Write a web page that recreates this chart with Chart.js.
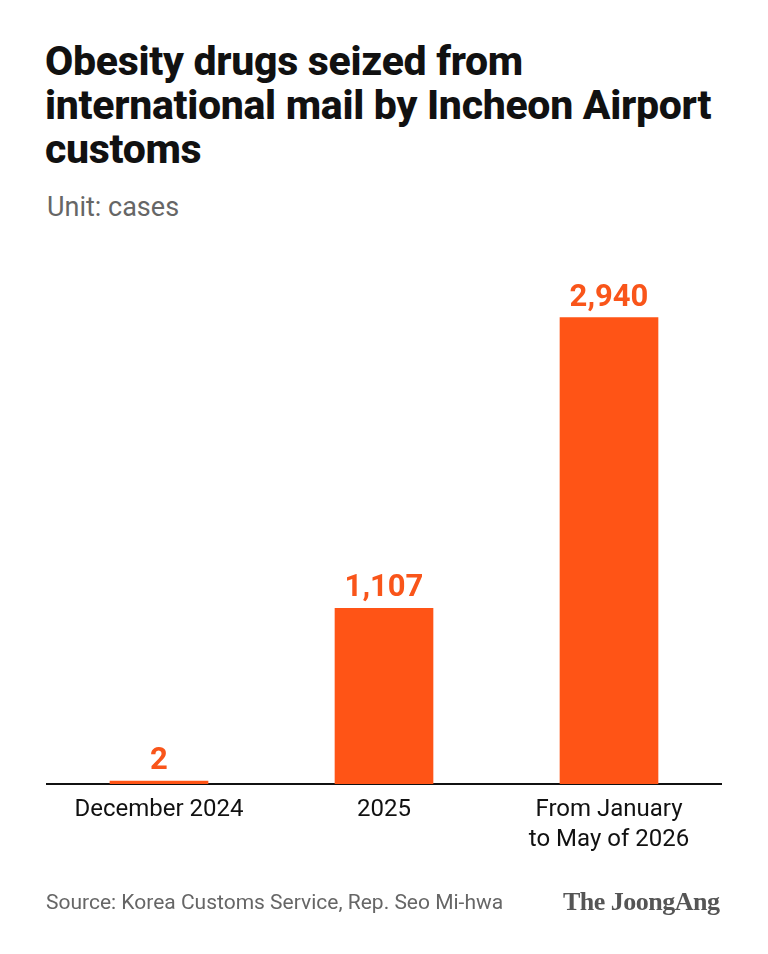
<!DOCTYPE html>
<html>
<head>
<meta charset="utf-8">
<script src="https://cdn.jsdelivr.net/npm/chart.js@4.4.1/dist/chart.umd.min.js"></script>
<style>
  html, body { margin: 0; padding: 0; background: #fff; }
  body { width: 768px; height: 954px; position: relative; overflow: hidden; font-family: Roboto, "Noto Sans", sans-serif; }
  .title { position: absolute; left: 45px; top: 39px; width: 720px; font-size: 41px; line-height: 44px; font-weight: 800; color: #111; letter-spacing: -0.3px; }
  .unit { position: absolute; left: 47px; top: 191px; font-size: 27px; line-height: 32px; color: #666; }
  .chart-box { position: absolute; left: 0; top: 250px; width: 768px; height: 650px; }
  .source { position: absolute; left: 46px; top: 888px; font-size: 21px; line-height: 28px; color: #666; z-index: 2; }
  .brand { position: absolute; left: 563px; top: 886px; font-family: "Liberation Serif", "DejaVu Serif", serif; font-size: 26px; line-height: 32px; font-weight: 700; color: #555; letter-spacing: -0.5px; z-index: 2; }
</style>
</head>
<body>
  <div class="title">Obesity drugs seized from<br>international mail by Incheon Airport<br>customs</div>
  <div class="unit">Unit: cases</div>
  <div class="chart-box"><canvas id="chart"></canvas></div>
  <div class="source">Source: Korea Customs Service, Rep. Seo Mi-hwa</div>
  <div class="brand">The JoongAng</div>

<script>
  // data
  const categories = [['December 2024'], ['2025'], ['From January', 'to May of 2026']];
  const seizedCases = [2, 1107, 2940];
  const valueLabels = ['2', '1,107', '2,940'];

  const orange = '#FF5416';

  // draws the numbers above each bar
  const valueLabelPlugin = {
    id: 'valueLabels',
    afterDatasetsDraw(chart) {
      const ctx = chart.ctx;
      const meta = chart.getDatasetMeta(0);
      ctx.save();
      ctx.font = '700 31px Roboto, sans-serif';
      ctx.fillStyle = '#F9551A';
      ctx.textAlign = 'center';
      ctx.textBaseline = 'alphabetic';
      meta.data.forEach((bar, i) => {
        ctx.fillText(valueLabels[i], bar.x, bar.y - 12);
      });
      ctx.restore();
    }
  };

  new Chart(document.getElementById('chart'), {
    type: 'bar',
    data: {
      labels: categories,
      datasets: [
        {
          data: seizedCases,
          backgroundColor: orange,
          barThickness: 98,
          minBarLength: 3,
          borderWidth: 0,
        },
      ],
    },
    options: {
      responsive: true,
      maintainAspectRatio: false,
      animation: false,
      layout: { padding: { left: 46.5, right: 46.5, top: 20, bottom: 42 } },
      plugins: {
        legend: { display: false },
        tooltip: { enabled: false },
      },
      scales: {
        x: {
          grid: { display: false },
          border: { display: true, color: '#111', width: 2 },
          ticks: {
            color: '#111',
            padding: 3,
            font: { family: 'Roboto', size: 24, lineHeight: 1.25 },
          },
        },
        y: {
          display: false,
          min: 0,
          max: 3240,
        },
      },
    },
    plugins: [valueLabelPlugin],
  });
</script>
</body>
</html>
